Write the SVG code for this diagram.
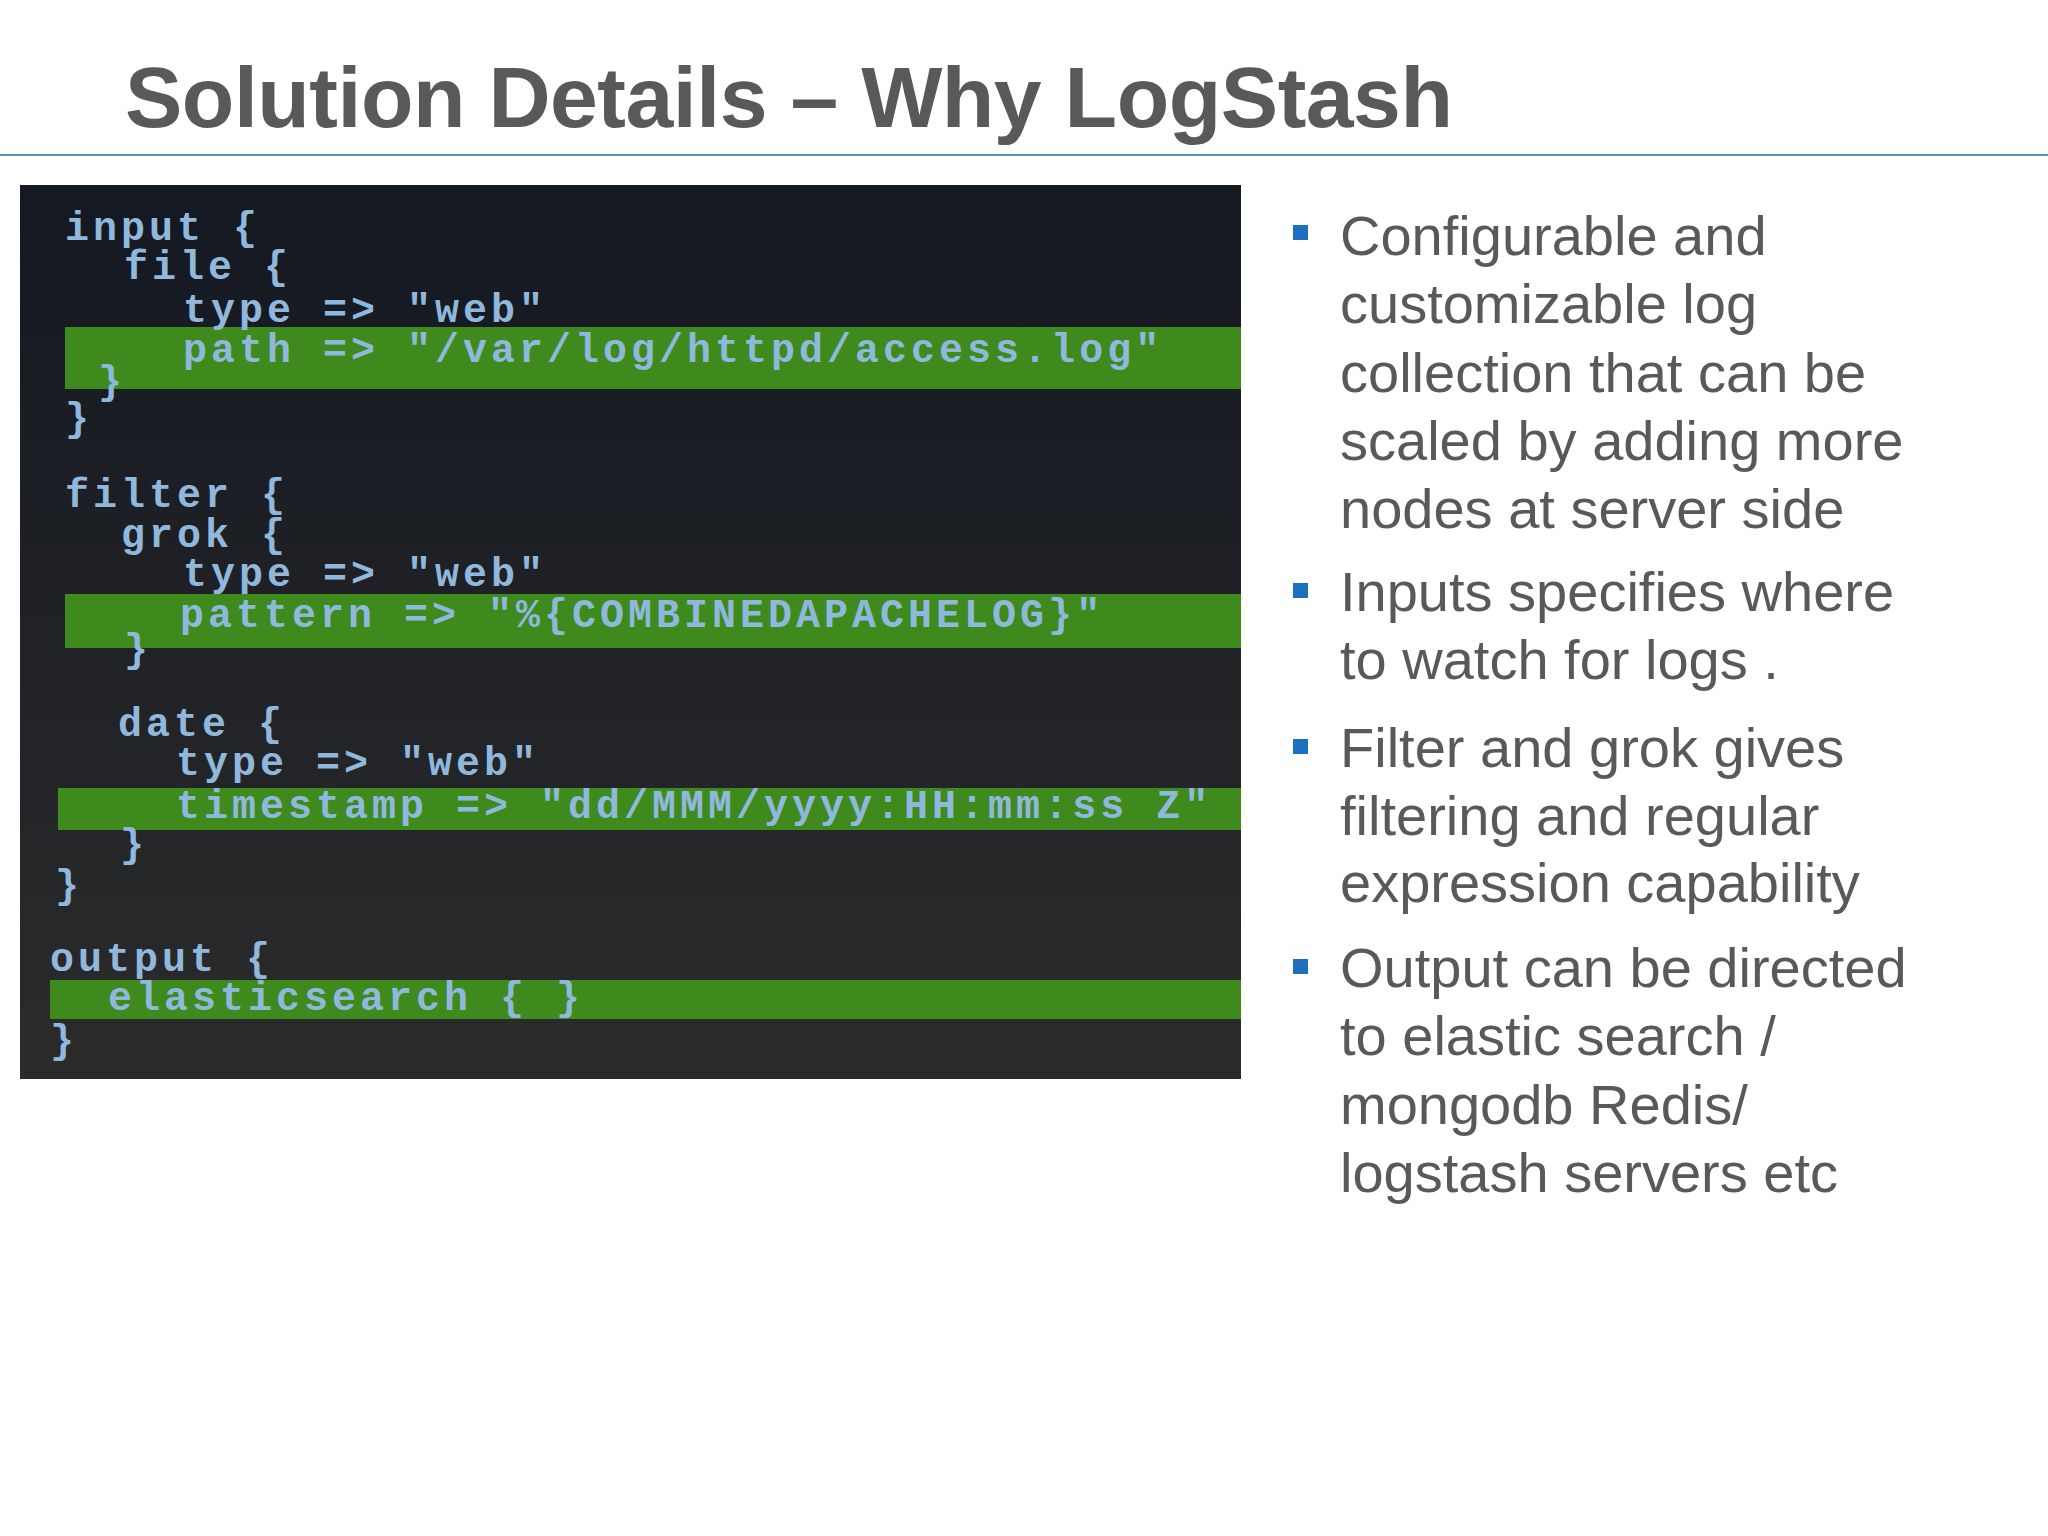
<svg xmlns="http://www.w3.org/2000/svg" width="2048" height="1536" viewBox="0 0 2048 1536">
<defs>
<style>
.t{font-family:"Liberation Sans",Arial,sans-serif;fill:#595959;font-size:56px}
.c{font-family:"Liberation Mono","Courier New",monospace;font-weight:bold;fill:#8fb8dc;font-size:40px;letter-spacing:4px}
.g{fill:#3f8a1c}
.b{fill:#1f6fc0}
</style>
<linearGradient id="bg" x1="0" y1="0" x2="0" y2="1">
<stop offset="0" stop-color="#141821"/><stop offset="1" stop-color="#2b2b2b"/>
</linearGradient>
</defs>
<rect width="2048" height="1536" fill="#fff"/>
<text x="125" y="127" font-family="Liberation Sans,Arial,sans-serif" font-weight="bold" font-size="86" fill="#595959" textLength="1328">Solution Details – Why LogStash</text>
<rect x="0" y="154" width="2048" height="2" fill="#5b8fc0"/>
<g id="code">
<rect x="20" y="185" width="1221" height="894" fill="url(#bg)"/>
<rect class="g" x="65" y="327" width="1176" height="62"/>
<rect class="g" x="65" y="594" width="1176" height="54"/>
<rect class="g" x="58" y="788" width="1183" height="42"/>
<rect class="g" x="50" y="980" width="1191" height="39"/>
<text class="c" x="65" y="240">input {</text>
<text class="c" x="124" y="279">file {</text>
<text class="c" x="183" y="322">type =&gt; "web"</text>
<text class="c" x="183" y="362">path =&gt; "/var/log/httpd/access.log"</text>
<text class="c" x="98" y="394">}</text>
<text class="c" x="65" y="431">}</text>
<text class="c" x="65" y="507">filter {</text>
<text class="c" x="121" y="547">grok {</text>
<text class="c" x="183" y="586">type =&gt; "web"</text>
<text class="c" x="180" y="627">pattern =&gt; "%{COMBINEDAPACHELOG}"</text>
<text class="c" x="124" y="662">}</text>
<text class="c" x="118" y="736">date {</text>
<text class="c" x="176" y="775">type =&gt; "web"</text>
<text class="c" x="176" y="818">timestamp =&gt; "dd/MMM/yyyy:HH:mm:ss Z"</text>
<text class="c" x="120" y="857">}</text>
<text class="c" x="55" y="898">}</text>
<text class="c" x="50" y="971">output {</text>
<text class="c" x="108" y="1010">elasticsearch { }</text>
<text class="c" x="50" y="1053">}</text>
</g>
<g id="bullets">
<rect class="b" x="1293" y="225" width="15" height="15"/>
<rect class="b" x="1293" y="583" width="15" height="15"/>
<rect class="b" x="1293" y="739" width="15" height="15"/>
<rect class="b" x="1293" y="959" width="15" height="15"/>
<text class="t" x="1340" y="255">Configurable and</text>
<text class="t" x="1340" y="323">customizable log</text>
<text class="t" x="1340" y="392">collection that can be</text>
<text class="t" x="1340" y="460">scaled by adding more</text>
<text class="t" x="1340" y="528">nodes at server side</text>
<text class="t" x="1340" y="611">Inputs specifies where</text>
<text class="t" x="1340" y="679">to watch for logs .</text>
<text class="t" x="1340" y="767">Filter and grok gives</text>
<text class="t" x="1340" y="835">filtering and regular</text>
<text class="t" x="1340" y="902">expression capability</text>
<text class="t" x="1340" y="987">Output can be directed</text>
<text class="t" x="1340" y="1055">to elastic search /</text>
<text class="t" x="1340" y="1124">mongodb Redis/</text>
<text class="t" x="1340" y="1192">logstash servers etc</text>
</g>
</svg>
